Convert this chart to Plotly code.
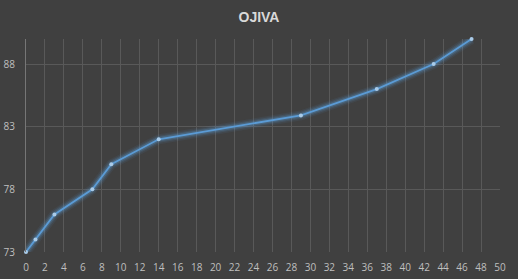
import plotly.graph_objects as go

x_vals = [0, 1, 3, 7, 9, 14, 29, 37, 43, 47]
y_vals = [73, 74, 76, 78, 80, 82, 83.9, 86, 88, 90]
title_text = "OJIVA"
x_ticks = list(range(0, 51, 2))
y_ticks = [73, 78, 83, 88]

line_color = "#5b9bd5"
fig = go.Figure()
# glow layers
for w, a in [(10, 0.08), (7, 0.14), (4.5, 0.25)]:
    fig.add_trace(go.Scatter(x=x_vals, y=y_vals, mode="lines",
                             line=dict(color=f"rgba(91,155,213,{a})", width=w),
                             hoverinfo="skip", showlegend=False, cliponaxis=False))
fig.add_trace(go.Scatter(x=x_vals, y=y_vals, mode="lines+markers",
                         line=dict(color=line_color, width=1.8),
                         marker=dict(size=4, color="#a9cbe9", line=dict(width=0)),
                         showlegend=False, cliponaxis=False))

fig.update_layout(
    width=518, height=279,
    paper_bgcolor="#404040", plot_bgcolor="#404040",
    margin=dict(l=26, r=18, t=39, b=27),
    title=dict(text="<b>" + title_text + "</b>", x=0.5, xanchor="center", y=0.94, yanchor="middle",
               font=dict(family="Liberation Sans, Arial", size=14, color="#d9d9d9")),
    font=dict(family="Open Sans, Liberation Sans", size=10, color="#bfbfbf"),
    xaxis=dict(range=[0, 50], tickvals=x_ticks, showgrid=True, gridcolor="#595959", gridwidth=1,
               zeroline=False, showline=False, ticks="outside", ticklen=6, automargin=False,
               tickcolor="rgba(0,0,0,0)", tickfont=dict(size=10, color="#bfbfbf")),
    yaxis=dict(range=[73, 90], tickvals=y_ticks, showgrid=True, gridcolor="#595959", gridwidth=1,
               zeroline=False, showline=True, linecolor="#767676", linewidth=1,
               ticks="outside", ticklen=8, automargin=False,
               tickcolor="rgba(0,0,0,0)", tickfont=dict(size=10, color="#bfbfbf")),
)
fig.write_html("out.html")
